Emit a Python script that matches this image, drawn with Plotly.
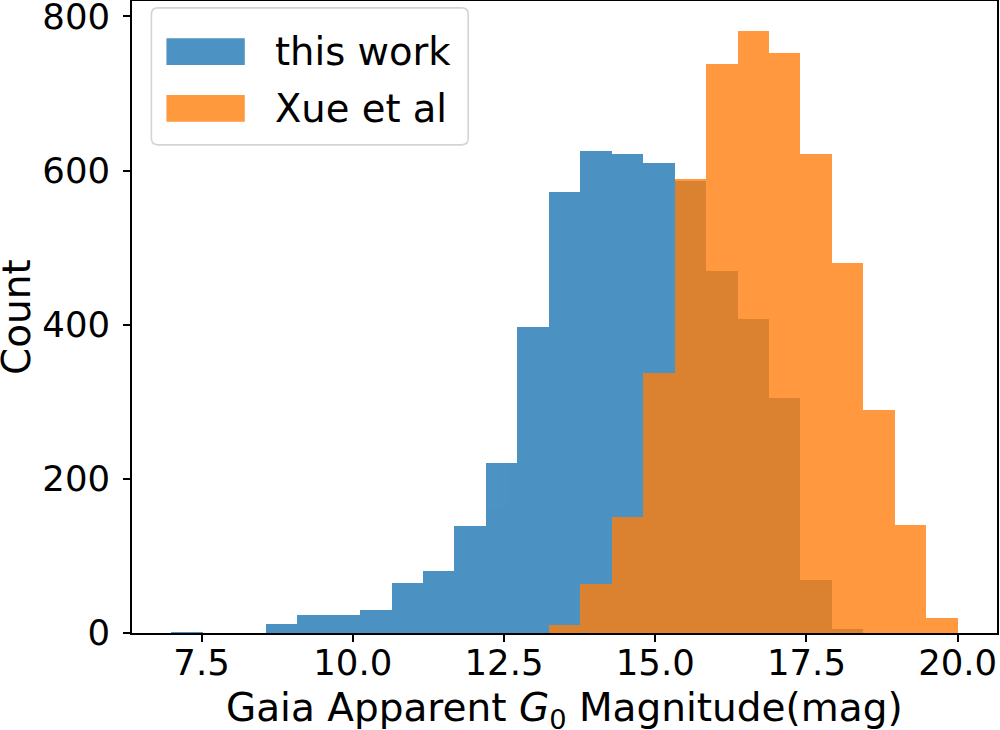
import plotly.graph_objects as go

# ---- data ----
bin_edges = [7.00, 7.52, 8.04, 8.56, 9.08, 9.60, 10.12, 10.64, 11.16, 11.68,
             12.20, 12.72, 13.24, 13.76, 14.28, 14.80, 15.32, 15.84, 16.36,
             16.88, 17.40, 17.92, 18.44, 18.96, 19.48, 20.00]

# "this work": counts for bins 0..21
this_work_counts = [1, 0, 0, 12, 23, 23, 30, 65, 81, 139, 220, 397, 572,
                    626, 622, 610, 587, 470, 407, 305, 69, 5]
this_work_first_bin = 0

# "Xue et al": counts for bins 12..24
xue_counts = [11, 64, 150, 337, 589, 738, 781, 753, 622, 480, 290, 140, 19]
xue_first_bin = 12

series_names = ["this work", "Xue et al"]
series_colors = ["#1f77b4", "#ff7f0e"]

x_tick_vals = [7.5, 10.0, 12.5, 15.0, 17.5, 20.0]
x_tick_text = ["7.5", "10.0", "12.5", "15.0", "17.5", "20.0"]
y_tick_vals = [0, 200, 400, 600, 800]
y_tick_text = ["0", "200", "400", "600", "800"]

x_title = "Gaia Apparent <i>G</i><sub>0</sub> Magnitude(mag)"
y_title = "Count"


def bars(counts, first):
    lefts = bin_edges[first:first + len(counts)]
    rights = bin_edges[first + 1:first + 1 + len(counts)]
    centers = [(a + b) / 2 for a, b in zip(lefts, rights)]
    widths = [b - a for a, b in zip(lefts, rights)]
    return centers, widths


FONT = "DejaVu Sans"
TICK_SIZE = 35.5
TITLE_SIZE = 39
LEGEND_SIZE = 38.5

fig = go.Figure()
for counts, first, name, color in [
    (this_work_counts, this_work_first_bin, series_names[0], series_colors[0]),
    (xue_counts, xue_first_bin, series_names[1], series_colors[1]),
]:
    cx, w = bars(counts, first)
    fig.add_trace(go.Bar(x=cx, y=counts, width=w, name=name,
                         marker=dict(color=color, line=dict(width=0)),
                         opacity=0.8, showlegend=False))

xmin, xmax = bin_edges[0], bin_edges[-1]
pad = (xmax - xmin) * 0.05
ymax = max(max(this_work_counts), max(xue_counts)) * 1.05

axis_common = dict(ticks="outside", ticklen=7, tickwidth=1.6,
                   tickcolor="black", showline=True, linecolor="black",
                   linewidth=1.6, mirror=True, showgrid=False, zeroline=False,
                   automargin=False, ticklabeloverflow="allow",
                   tickfont=dict(family=FONT, size=TICK_SIZE, color="black"))

fig.update_layout(
    width=1000, height=730,
    margin=dict(l=132, r=3, t=1, b=97, autoexpand=False),
    paper_bgcolor="white", plot_bgcolor="white",
    barmode="overlay", bargap=0,
    font=dict(family=FONT, size=TICK_SIZE, color="black"),
    xaxis=dict(range=[xmin - pad, xmax + pad], tickvals=x_tick_vals,
               ticktext=x_tick_text, ticklabelstandoff=-9, **axis_common),
    yaxis=dict(range=[0, ymax], tickvals=y_tick_vals, ticktext=y_tick_text,
               ticklabelstandoff=6, **axis_common),
)

# axis titles
fig.add_annotation(text=x_title, xref="paper", yref="paper", x=0.5, y=0,
                   xanchor="center", yanchor="middle", yshift=-77,
                   showarrow=False,
                   font=dict(family=FONT, size=TITLE_SIZE, color="black"))
fig.add_annotation(text=y_title, xref="paper", yref="paper", x=0, y=0.5,
                   xanchor="center", yanchor="middle", xshift=-116,
                   textangle=-90, showarrow=False,
                   font=dict(family=FONT, size=TITLE_SIZE, color="black"))

# custom legend (matplotlib style wide patches, rounded frame)
lx0, lx1, ly0, ly1 = 0.0224, 0.3887, 0.7724, 0.9891
rx, ry = 0.0075, 0.0103  # ~6.5 px corner radius in paper units
frame_path = (
    f"M {lx0 + rx},{ly0} L {lx1 - rx},{ly0} Q {lx1},{ly0} {lx1},{ly0 + ry} "
    f"L {lx1},{ly1 - ry} Q {lx1},{ly1} {lx1 - rx},{ly1} "
    f"L {lx0 + rx},{ly1} Q {lx0},{ly1} {lx0},{ly1 - ry} "
    f"L {lx0},{ly0 + ry} Q {lx0},{ly0} {lx0 + rx},{ly0} Z"
)
fig.add_shape(type="path", path=frame_path, xref="paper", yref="paper",
              line=dict(color="#d4d4d4", width=1.6),
              fillcolor="rgba(255,255,255,0.8)", layer="above")
legend_rows = [(0.9410, 0.8988), (0.8513, 0.8091)]
for (ytop, ybot), name, color in zip(legend_rows, series_names, series_colors):
    fig.add_shape(type="rect", xref="paper", yref="paper",
                  x0=0.0398, x1=0.1304, y0=ybot, y1=ytop,
                  line=dict(width=0), fillcolor=color, opacity=0.8,
                  layer="above")
    fig.add_annotation(text=name, xref="paper", yref="paper",
                       x=0.1635, y=(ytop + ybot) / 2, xanchor="left",
                       yanchor="middle", showarrow=False,
                       font=dict(family=FONT, size=LEGEND_SIZE, color="black"))

fig.write_html("out.html", config={"displayModeBar": False},
               post_script="document.body.style.margin='0';"
                           "document.body.style.overflow='hidden';")
